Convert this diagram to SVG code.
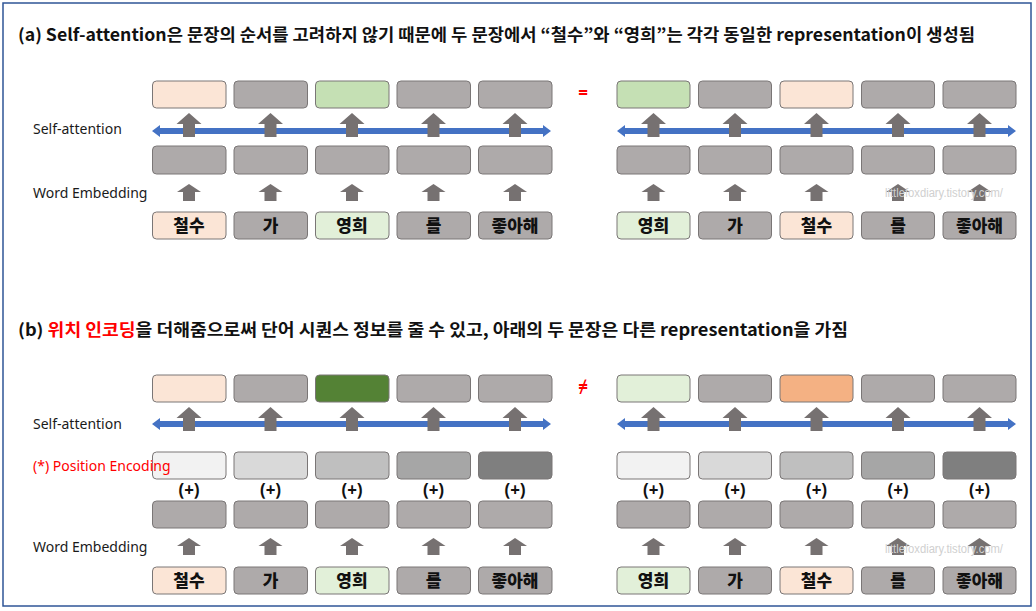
<svg xmlns="http://www.w3.org/2000/svg" xmlns:xlink="http://www.w3.org/1999/xlink" width="1036" height="611" viewBox="0 0 1036 611">
<style>
.title{font-family:"Noto Sans CJK KR","Noto Sans",sans-serif;font-weight:bold;font-size:17px;fill:#111}
.lbl{font-family:"Noto Sans","Noto Sans CJK KR",sans-serif;font-size:14px;fill:#1a1a1a}
.red{fill:#ff0000}
.word{font-family:"Noto Sans CJK KR",sans-serif;font-weight:900;font-size:17px;fill:#111;text-anchor:middle}
.plus{font-family:"Noto Sans","Noto Sans CJK KR",sans-serif;font-weight:bold;font-size:17px;fill:#111;text-anchor:middle}
.wm{font-family:"Liberation Sans",sans-serif;font-size:12px;fill:#d0d0d0}
.b{stroke:#7a7676;stroke-width:1}
.g{fill:#aeaaaa}.pe{fill:#fbe5d6}.gr{fill:#c5e0b4}.lg{fill:#e2f0d9}.dg{fill:#548235}.or{fill:#f4b183}
.p1{fill:#f2f2f2}.p2{fill:#d9d9d9}.p3{fill:#bfbfbf}.p4{fill:#a6a6a6}.p5{fill:#7f7f7f}
.blue{fill:#4472c4}
.arr{fill:#767171}
.sym{font-family:"Noto Sans",sans-serif;font-weight:bold;font-size:17px;fill:#ff0000;text-anchor:middle}
</style>
<defs>
<path id="bigArrow" d="M0,0 L12.5,11 L6,11 L6,24 L-6,24 L-6,11 L-12.5,11 Z"/>
<path id="smallArrow" d="M0,0 L12,8 L6,8 L6,17 L-6,17 L-6,8 L-12,8 Z"/>
</defs>
<rect x="0" y="0" width="1036" height="611" fill="#ffffff"/>
<rect id="frame" x="3" y="3" width="1028" height="603" fill="none" stroke="#2f5597" stroke-width="1.5"/>

<g id="titles">
<text class="title" x="18" y="41" textLength="957" lengthAdjust="spacingAndGlyphs">(a) Self-attention은 문장의 순서를 고려하지 않기 때문에 두 문장에서 “철수”와 “영희”는 각각 동일한 representation이 생성됨</text>
<text class="title" x="18" y="336" textLength="830" lengthAdjust="spacingAndGlyphs">(b) <tspan class="red">위치 인코딩</tspan>을 더해줌으로써 단어 시퀀스 정보를 줄 수 있고, 아래의 두 문장은 다른 representation을 가짐</text>
</g>

<g id="connectors">
<path class="blue" d="M152,131 L160,125 L160,128 L543,128 L543,125 L551,131 L543,137 L543,134 L160,134 L160,137 Z"/>
<path class="blue" d="M617,131 L625,125 L625,128 L1008,128 L1008,125 L1016,131 L1008,137 L1008,134 L625,134 L625,137 Z"/>
<path class="blue" d="M152,424 L160,418 L160,421 L543,421 L543,418 L551,424 L543,430 L543,427 L160,427 L160,430 Z"/>
<path class="blue" d="M617,424 L625,418 L625,421 L1008,421 L1008,418 L1016,424 L1008,430 L1008,427 L625,427 L625,430 Z"/>
<g class="arr">
<use href="#bigArrow" x="189" y="113"/><use href="#bigArrow" x="270.5" y="113"/><use href="#bigArrow" x="352" y="113"/><use href="#bigArrow" x="433.5" y="113"/><use href="#bigArrow" x="515" y="113"/>
<use href="#bigArrow" x="653.5" y="113"/><use href="#bigArrow" x="735" y="113"/><use href="#bigArrow" x="816.5" y="113"/><use href="#bigArrow" x="898" y="113"/><use href="#bigArrow" x="979.5" y="113"/>
<use href="#smallArrow" x="189" y="184"/><use href="#smallArrow" x="270.5" y="184"/><use href="#smallArrow" x="352" y="184"/><use href="#smallArrow" x="433.5" y="184"/><use href="#smallArrow" x="515" y="184"/>
<use href="#smallArrow" x="653.5" y="184"/><use href="#smallArrow" x="735" y="184"/><use href="#smallArrow" x="816.5" y="184"/><use href="#smallArrow" x="898" y="184"/><use href="#smallArrow" x="979.5" y="184"/>
<use href="#bigArrow" x="189" y="407"/><use href="#bigArrow" x="270.5" y="407"/><use href="#bigArrow" x="352" y="407"/><use href="#bigArrow" x="433.5" y="407"/><use href="#bigArrow" x="515" y="407"/>
<use href="#bigArrow" x="653.5" y="407"/><use href="#bigArrow" x="735" y="407"/><use href="#bigArrow" x="816.5" y="407"/><use href="#bigArrow" x="898" y="407"/><use href="#bigArrow" x="979.5" y="407"/>
<use href="#smallArrow" x="189" y="538"/><use href="#smallArrow" x="270.5" y="538"/><use href="#smallArrow" x="352" y="538"/><use href="#smallArrow" x="433.5" y="538"/><use href="#smallArrow" x="515" y="538"/>
<use href="#smallArrow" x="653.5" y="538"/><use href="#smallArrow" x="735" y="538"/><use href="#smallArrow" x="816.5" y="538"/><use href="#smallArrow" x="898" y="538"/><use href="#smallArrow" x="979.5" y="538"/>
</g>
</g>

<!-- Section (a), left -->
<g id="a-out-1"><rect class="b pe" x="152.5" y="81" width="73.5" height="27" rx="4"/></g>
<g id="a-out-2"><rect class="b g" x="234" y="81" width="73.5" height="27" rx="4"/></g>
<g id="a-out-3"><rect class="b gr" x="315.5" y="81" width="73.5" height="27" rx="4"/></g>
<g id="a-out-4"><rect class="b g" x="397" y="81" width="73.5" height="27" rx="4"/></g>
<g id="a-out-5"><rect class="b g" x="478.5" y="81" width="73.5" height="27" rx="4"/></g>
<g id="a-emb-1"><rect class="b g" x="152.5" y="146" width="73.5" height="28" rx="4"/></g>
<g id="a-emb-2"><rect class="b g" x="234" y="146" width="73.5" height="28" rx="4"/></g>
<g id="a-emb-3"><rect class="b g" x="315.5" y="146" width="73.5" height="28" rx="4"/></g>
<g id="a-emb-4"><rect class="b g" x="397" y="146" width="73.5" height="28" rx="4"/></g>
<g id="a-emb-5"><rect class="b g" x="478.5" y="146" width="73.5" height="28" rx="4"/></g>
<g id="a-w-1"><rect class="b pe" x="152.5" y="212" width="73.5" height="27" rx="4"/><text class="word" x="189" y="231.5">철수</text></g>
<g id="a-w-2"><rect class="b g" x="234" y="212" width="73.5" height="27" rx="4"/><text class="word" x="270.5" y="231.5">가</text></g>
<g id="a-w-3"><rect class="b lg" x="315.5" y="212" width="73.5" height="27" rx="4"/><text class="word" x="352" y="231.5">영희</text></g>
<g id="a-w-4"><rect class="b g" x="397" y="212" width="73.5" height="27" rx="4"/><text class="word" x="433.5" y="231.5">를</text></g>
<g id="a-w-5"><rect class="b g" x="478.5" y="212" width="73.5" height="27" rx="4"/><text class="word" x="515" y="231.5">좋아해</text></g>

<!-- Section (a), right -->
<g id="a2-out-1"><rect class="b gr" x="617" y="81" width="73" height="27" rx="4"/></g>
<g id="a2-out-2"><rect class="b g" x="698.5" y="81" width="73" height="27" rx="4"/></g>
<g id="a2-out-3"><rect class="b pe" x="780" y="81" width="73" height="27" rx="4"/></g>
<g id="a2-out-4"><rect class="b g" x="861.5" y="81" width="73" height="27" rx="4"/></g>
<g id="a2-out-5"><rect class="b g" x="943" y="81" width="73" height="27" rx="4"/></g>
<g id="a2-emb-1"><rect class="b g" x="617" y="146" width="73" height="28" rx="4"/></g>
<g id="a2-emb-2"><rect class="b g" x="698.5" y="146" width="73" height="28" rx="4"/></g>
<g id="a2-emb-3"><rect class="b g" x="780" y="146" width="73" height="28" rx="4"/></g>
<g id="a2-emb-4"><rect class="b g" x="861.5" y="146" width="73" height="28" rx="4"/></g>
<g id="a2-emb-5"><rect class="b g" x="943" y="146" width="73" height="28" rx="4"/></g>
<g id="a2-w-1"><rect class="b lg" x="617" y="212" width="73" height="27" rx="4"/><text class="word" x="653.5" y="231.5">영희</text></g>
<g id="a2-w-2"><rect class="b g" x="698.5" y="212" width="73" height="27" rx="4"/><text class="word" x="735" y="231.5">가</text></g>
<g id="a2-w-3"><rect class="b pe" x="780" y="212" width="73" height="27" rx="4"/><text class="word" x="816.5" y="231.5">철수</text></g>
<g id="a2-w-4"><rect class="b g" x="861.5" y="212" width="73" height="27" rx="4"/><text class="word" x="898" y="231.5">를</text></g>
<g id="a2-w-5"><rect class="b g" x="943" y="212" width="73" height="27" rx="4"/><text class="word" x="979.5" y="231.5">좋아해</text></g>

<!-- Section (b), left -->
<g id="b-out-1"><rect class="b pe" x="152.5" y="375" width="73.5" height="27" rx="4"/></g>
<g id="b-out-2"><rect class="b g" x="234" y="375" width="73.5" height="27" rx="4"/></g>
<g id="b-out-3"><rect class="b dg" x="315.5" y="375" width="73.5" height="27" rx="4"/></g>
<g id="b-out-4"><rect class="b g" x="397" y="375" width="73.5" height="27" rx="4"/></g>
<g id="b-out-5"><rect class="b g" x="478.5" y="375" width="73.5" height="27" rx="4"/></g>
<g id="b-pe-1"><rect class="b p1" x="152.5" y="452" width="73.5" height="27" rx="4"/><text class="plus" x="189" y="496">(+)</text></g>
<g id="b-pe-2"><rect class="b p2" x="234" y="452" width="73.5" height="27" rx="4"/><text class="plus" x="270.5" y="496">(+)</text></g>
<g id="b-pe-3"><rect class="b p3" x="315.5" y="452" width="73.5" height="27" rx="4"/><text class="plus" x="352" y="496">(+)</text></g>
<g id="b-pe-4"><rect class="b p4" x="397" y="452" width="73.5" height="27" rx="4"/><text class="plus" x="433.5" y="496">(+)</text></g>
<g id="b-pe-5"><rect class="b p5" x="478.5" y="452" width="73.5" height="27" rx="4"/><text class="plus" x="515" y="496">(+)</text></g>
<g id="b-emb-1"><rect class="b g" x="152.5" y="501" width="73.5" height="27" rx="4"/></g>
<g id="b-emb-2"><rect class="b g" x="234" y="501" width="73.5" height="27" rx="4"/></g>
<g id="b-emb-3"><rect class="b g" x="315.5" y="501" width="73.5" height="27" rx="4"/></g>
<g id="b-emb-4"><rect class="b g" x="397" y="501" width="73.5" height="27" rx="4"/></g>
<g id="b-emb-5"><rect class="b g" x="478.5" y="501" width="73.5" height="27" rx="4"/></g>
<g id="b-w-1"><rect class="b pe" x="152.5" y="567" width="73.5" height="27" rx="4"/><text class="word" x="189" y="586.5">철수</text></g>
<g id="b-w-2"><rect class="b g" x="234" y="567" width="73.5" height="27" rx="4"/><text class="word" x="270.5" y="586.5">가</text></g>
<g id="b-w-3"><rect class="b lg" x="315.5" y="567" width="73.5" height="27" rx="4"/><text class="word" x="352" y="586.5">영희</text></g>
<g id="b-w-4"><rect class="b g" x="397" y="567" width="73.5" height="27" rx="4"/><text class="word" x="433.5" y="586.5">를</text></g>
<g id="b-w-5"><rect class="b g" x="478.5" y="567" width="73.5" height="27" rx="4"/><text class="word" x="515" y="586.5">좋아해</text></g>

<!-- Section (b), right -->
<g id="b2-out-1"><rect class="b lg" x="617" y="375" width="73" height="27" rx="4"/></g>
<g id="b2-out-2"><rect class="b g" x="698.5" y="375" width="73" height="27" rx="4"/></g>
<g id="b2-out-3"><rect class="b or" x="780" y="375" width="73" height="27" rx="4"/></g>
<g id="b2-out-4"><rect class="b g" x="861.5" y="375" width="73" height="27" rx="4"/></g>
<g id="b2-out-5"><rect class="b g" x="943" y="375" width="73" height="27" rx="4"/></g>
<g id="b2-pe-1"><rect class="b p1" x="617" y="452" width="73" height="27" rx="4"/><text class="plus" x="653.5" y="496">(+)</text></g>
<g id="b2-pe-2"><rect class="b p2" x="698.5" y="452" width="73" height="27" rx="4"/><text class="plus" x="735" y="496">(+)</text></g>
<g id="b2-pe-3"><rect class="b p3" x="780" y="452" width="73" height="27" rx="4"/><text class="plus" x="816.5" y="496">(+)</text></g>
<g id="b2-pe-4"><rect class="b p4" x="861.5" y="452" width="73" height="27" rx="4"/><text class="plus" x="898" y="496">(+)</text></g>
<g id="b2-pe-5"><rect class="b p5" x="943" y="452" width="73" height="27" rx="4"/><text class="plus" x="979.5" y="496">(+)</text></g>
<g id="b2-emb-1"><rect class="b g" x="617" y="501" width="73" height="27" rx="4"/></g>
<g id="b2-emb-2"><rect class="b g" x="698.5" y="501" width="73" height="27" rx="4"/></g>
<g id="b2-emb-3"><rect class="b g" x="780" y="501" width="73" height="27" rx="4"/></g>
<g id="b2-emb-4"><rect class="b g" x="861.5" y="501" width="73" height="27" rx="4"/></g>
<g id="b2-emb-5"><rect class="b g" x="943" y="501" width="73" height="27" rx="4"/></g>
<g id="b2-w-1"><rect class="b lg" x="617" y="567" width="73" height="27" rx="4"/><text class="word" x="653.5" y="586.5">영희</text></g>
<g id="b2-w-2"><rect class="b g" x="698.5" y="567" width="73" height="27" rx="4"/><text class="word" x="735" y="586.5">가</text></g>
<g id="b2-w-3"><rect class="b pe" x="780" y="567" width="73" height="27" rx="4"/><text class="word" x="816.5" y="586.5">철수</text></g>
<g id="b2-w-4"><rect class="b g" x="861.5" y="567" width="73" height="27" rx="4"/><text class="word" x="898" y="586.5">를</text></g>
<g id="b2-w-5"><rect class="b g" x="943" y="567" width="73" height="27" rx="4"/><text class="word" x="979.5" y="586.5">좋아해</text></g>

<g id="labels">
<text class="lbl" x="33" y="134">Self-attention</text>
<text class="lbl" x="33" y="198">Word Embedding</text>
<text class="lbl" x="33" y="429">Self-attention</text>
<text class="lbl" x="33" y="471" style="fill:#ff0000">(*) Position Encoding</text>
<text class="lbl" x="33" y="552">Word Embedding</text>
<text class="sym" x="583" y="99">=</text>
<text class="sym" x="583" y="393" font-weight="normal">≠</text>
</g>

<g id="watermarks">
<text class="wm" x="885" y="197" textLength="118" lengthAdjust="spacingAndGlyphs">littlefoxdiary.tistory.com/</text>
<text class="wm" x="885" y="553" textLength="118" lengthAdjust="spacingAndGlyphs">littlefoxdiary.tistory.com/</text>
</g>
</svg>
